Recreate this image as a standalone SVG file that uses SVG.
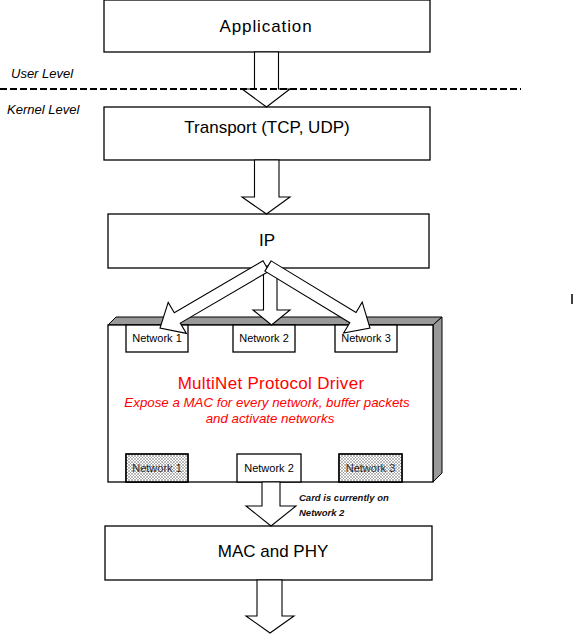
<svg xmlns="http://www.w3.org/2000/svg" width="573" height="634" viewBox="0 0 573 634">
<style>
.box{fill:#fff;stroke:#000;stroke-width:1.3}
.arr{fill:#fff;stroke:#000;stroke-width:1.1;stroke-linejoin:miter}
.big{font-family:"Liberation Sans",Arial,sans-serif;font-size:17px;fill:#000;text-anchor:middle}
.net{font-family:"Liberation Sans",Arial,sans-serif;font-size:11px;fill:#000;text-anchor:middle}
.lvl{font-family:"Liberation Sans",Arial,sans-serif;font-size:13px;font-style:italic;fill:#000}
.red{font-family:"Liberation Sans",Arial,sans-serif;fill:#ff0000;text-anchor:middle}
.note{font-family:"Liberation Sans",Arial,sans-serif;font-size:9.5px;font-style:italic;font-weight:bold;fill:#111}
.gray{fill:#999;stroke:#000;stroke-width:1}
</style>
<defs>
<pattern id="hatch" width="3" height="3" patternUnits="userSpaceOnUse">
<path d="M0,0 L3,3 M3,0 L0,3" stroke="#777" stroke-width="0.5"/>
</pattern>
</defs>
<rect width="573" height="634" fill="#fff"/>

<text class="lvl" x="11" y="78">User Level</text>
<text class="lvl" x="7" y="114">Kernel Level</text>

<g id="application">
<rect class="box" x="104" y="0" width="326" height="52"/>
<text class="big" x="266" y="32" letter-spacing="0.9">Application</text>
</g>
<g id="transport">
<rect class="box" x="104" y="107" width="326" height="53"/>
<text class="big" x="267" y="133">Transport (TCP, UDP)</text>
</g>
<g id="ip">
<rect class="box" x="108" y="214" width="321" height="54"/>
<text class="big" x="267" y="246">IP</text>
</g>

<g id="driver">
<polygon class="gray" points="108,325 116,317 442,317 433,325"/>
<polygon class="gray" points="433,325 442,317 442,473 433,482"/>
<rect class="box" x="108" y="325" width="325" height="157"/>
<text class="red" x="271" y="389" font-size="17" letter-spacing="0.3">MultiNet Protocol Driver</text>
<text class="red" x="267" y="407" font-size="13.3" font-style="italic">Expose a MAC for every network, buffer packets</text>
<text class="red" x="270" y="423" font-size="13.3" font-style="italic">and activate networks</text>
</g>
<g id="net1-top">
<rect class="box" x="126" y="325" width="62" height="27"/>
<text class="net" x="157" y="342">Network 1</text>
</g>
<g id="net2-top">
<rect class="box" x="233" y="325" width="62" height="27"/>
<text class="net" x="264" y="342">Network 2</text>
</g>
<g id="net3-top">
<rect class="box" x="335" y="325" width="62" height="27"/>
<text class="net" x="366" y="342">Network 3</text>
</g>
<g id="net1-bottom">
<rect class="box" x="126" y="454" width="62" height="28"/>
<text class="net" x="157" y="472" fill="#333">Network 1</text>
<rect x="126" y="454" width="62" height="28" fill="url(#hatch)" stroke="#000" stroke-width="1.3"/>
</g>
<g id="net2-bottom">
<rect class="box" x="237" y="454" width="64" height="28"/>
<text class="net" x="269" y="472">Network 2</text>
</g>
<g id="net3-bottom">
<rect class="box" x="339" y="454" width="63" height="28"/>
<text class="net" x="370.5" y="472" fill="#333">Network 3</text>
<rect x="339" y="454" width="63" height="28" fill="url(#hatch)" stroke="#000" stroke-width="1.3"/>
</g>

<g id="mac">
<rect class="box" x="105" y="526" width="327" height="54"/>
<text class="big" x="273" y="557">MAC and PHY</text>
</g>

<g id="connectors">
<polygon class="arr" points="254.5,52 278.5,52 278.5,89 290,89 266.5,107 242,89 254.5,89"/>
<polygon class="arr" points="254.5,160 279,160 279,197 290,197 266.5,214 242,197 254.5,197"/>
<polygon class="arr" points="263.5,266 277,266 277,310 290,310 271.5,325 253,310 263.5,310"/>
<polygon class="arr" points="263,260.8 269,271.2 180.3,323.1 186.4,333.4 160,328 168.2,302.4 174.3,312.7"/>
<polygon class="arr" points="271.1,260.9 264.9,271.1 349.8,322.7 343.6,333 370,328 362.2,302.2 356,312.5"/>
<polygon class="arr" points="262,482 280,482 280,506 296,506 271,526 246,506 262,506"/>
<polygon class="arr" points="257,580 282,580 282,616 294,616 270,633 246,616 257,616"/>
<line x1="0" y1="89" x2="521" y2="89" stroke="#000" stroke-width="2" stroke-dasharray="7 3"/>
</g>

<text class="note" x="299" y="501">Card is currently on</text>
<text class="note" x="299" y="516">Network 2</text>

<line x1="572" y1="294" x2="572" y2="304" stroke="#000" stroke-width="1.5"/>
</svg>
